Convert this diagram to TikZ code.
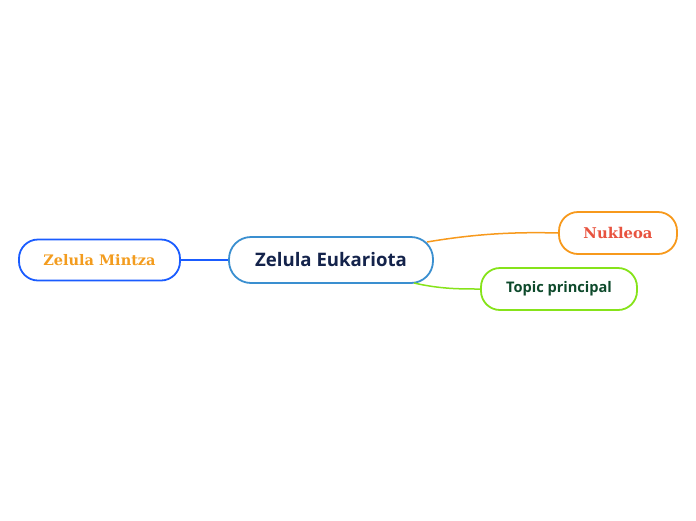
\documentclass[tikz,border=0pt]{standalone}
\usepackage{fontspec}
\setmainfont{Open Sans}
\newfontfamily\slabfont{DejaVu Serif}
\definecolor{centerblue}{HTML}{3A8FD0}
\definecolor{navy}{HTML}{14234B}
\definecolor{mintblue}{HTML}{1A5CFF}
\definecolor{mintorange}{HTML}{F39C1E}
\definecolor{nukorange}{HTML}{F7991C}
\definecolor{nukred}{HTML}{E8533F}
\definecolor{lime}{HTML}{86E31A}
\definecolor{dkgreen}{HTML}{0E4A2C}
\tikzset{
  topic/.style={draw, line width=1.8pt, rounded corners=19pt, fill=white, inner sep=0pt, align=center},
  conn/.style={line width=1.5pt}
}
\begin{document}
\begin{tikzpicture}[x=1pt,y=-1pt]
\useasboundingbox (0,0) rectangle (696,520);
\node[topic, draw=centerblue, minimum width=204pt, minimum height=46pt, rounded corners=22pt, text=navy, font=\fontsize{18.6}{22}\selectfont\bfseries] (c) at (331,260) {Zelula Eukariota};
\node[topic, draw=mintblue, minimum width=161pt, minimum height=41pt, text=mintorange, font=\slabfont\fontsize{14.5}{17}\selectfont\bfseries] (m) at (99.5,260) {Zelula Mintza};
\node[topic, draw=nukorange, minimum width=118pt, minimum height=42pt, text=nukred, font=\slabfont\fontsize{14.8}{17}\selectfont\bfseries] (n) at (618,233) {Nukleoa};
\node[topic, draw=lime, minimum width=156pt, minimum height=42pt, text=dkgreen, font=\fontsize{14.6}{17}\selectfont\bfseries] (t) at (559,289) {Topic principal};
\draw[conn, mintblue] (m.east) -- (c.west);
\coordinate (co) at (427,242);
\coordinate (cg) at (414,283);
\draw[conn, nukorange] (co) .. controls (480,233) and (520,232) .. (n.west);
\draw[conn, lime] (cg) .. controls (440,289) and (460,289) .. (t.west);
\end{tikzpicture}
\end{document}
